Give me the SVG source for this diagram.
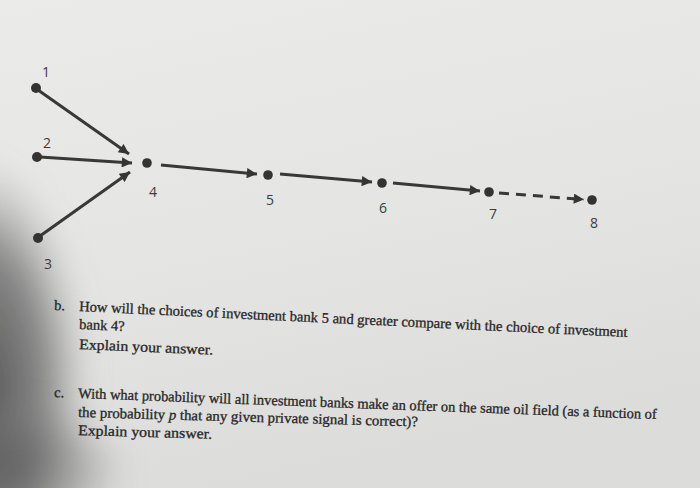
<svg xmlns="http://www.w3.org/2000/svg" width="700" height="488" viewBox="0 0 700 488">
  <defs>
    <linearGradient id="paper" x1="0" y1="0" x2="0.3" y2="1">
      <stop offset="0" stop-color="#ebebea"/>
      <stop offset="0.6" stop-color="#e4e4e3"/>
      <stop offset="1" stop-color="#dcdcdb"/>
    </linearGradient>
    <radialGradient id="shadow" cx="0.5" cy="0.5" r="0.5">
      <stop offset="0" stop-color="#484848" stop-opacity="0.95"/>
      <stop offset="0.6" stop-color="#686868" stop-opacity="0.75"/>
      <stop offset="1" stop-color="#9a9a9a" stop-opacity="0"/>
    </radialGradient>
    <filter id="blur" x="-50%" y="-50%" width="200%" height="200%">
      <feGaussianBlur stdDeviation="14"/>
    </filter>
    <marker id="arrow" viewBox="0 0 10 10" refX="10" refY="5" markerWidth="4" markerHeight="3.4" orient="auto" markerUnits="strokeWidth">
      <path d="M0,0 L10,5 L0,10 Z" fill="#353535"/>
    </marker>
    <style>
      .edge { stroke: #383838; stroke-width: 3; fill: none; marker-end: url(#arrow); }
      .dash { stroke-dasharray: 10 7; }
      .dot { fill: #333333; }
      .lbl { font-family: "Open Sans", "Liberation Sans", sans-serif; font-size: 14px; fill: #3c3c3c; text-anchor: middle; }
      .q { font-family: "Liberation Serif", "Times New Roman", serif; font-size: 14.5px; fill: #262626; stroke: #262626; stroke-width: 0.3; }
    </style>
  </defs>

  <rect x="0" y="0" width="700" height="488" fill="url(#paper)"/>
  <ellipse cx="-25" cy="390" rx="115" ry="235" fill="url(#shadow)" filter="url(#blur)"/>
  <ellipse cx="20" cy="470" rx="110" ry="70" fill="url(#shadow)" filter="url(#blur)" opacity="0.5"/>

  <g id="connectors">
    <line class="edge" x1="38" y1="90" x2="129" y2="154"/>
    <line class="edge" x1="40" y1="157" x2="132" y2="163"/>
    <line class="edge" x1="40" y1="236" x2="130" y2="172"/>
    <line class="edge" x1="161" y1="165" x2="257" y2="174"/>
    <line class="edge" x1="280" y1="174" x2="372" y2="182"/>
    <line class="edge" x1="393" y1="183" x2="480" y2="191"/>
    <line class="edge dash" x1="499" y1="193" x2="584" y2="199.5"/>
  </g>

  <g id="node1"><circle class="dot" cx="36" cy="88" r="5"/><text class="lbl" x="46" y="77">1</text></g>
  <g id="node2"><circle class="dot" cx="37" cy="157" r="5"/><text class="lbl" x="47" y="148">2</text></g>
  <g id="node3"><circle class="dot" cx="38" cy="238" r="5"/><text class="lbl" x="48" y="269">3</text></g>
  <g id="node4"><circle class="dot" cx="147" cy="163" r="4.8"/><text class="lbl" x="153" y="197">4</text></g>
  <g id="node5"><circle class="dot" cx="268" cy="175" r="4.8"/><text class="lbl" x="270" y="205">5</text></g>
  <g id="node6"><circle class="dot" cx="382" cy="183" r="4.8"/><text class="lbl" x="383" y="213">6</text></g>
  <g id="node7"><circle class="dot" cx="489" cy="192" r="4.8"/><text class="lbl" x="493" y="219">7</text></g>
  <g id="node8"><circle class="dot" cx="592" cy="200" r="4.8"/><text class="lbl" x="594" y="228">8</text></g>

  <g id="question-b">
    <text class="q" x="54" y="310" transform="rotate(2.5 54 310)">b.</text>
    <text class="q" x="79" y="311" transform="rotate(2.71 79 311)" textLength="549" lengthAdjust="spacingAndGlyphs">How will the choices of investment bank 5 and greater compare with the choice of investment</text>
    <text class="q" x="79" y="329" transform="rotate(2.4 79 329)">bank 4?</text>
    <text class="q" x="79" y="349" transform="rotate(2.4 79 349)" textLength="134" lengthAdjust="spacingAndGlyphs">Explain your answer.</text>
  </g>

  <g id="question-c">
    <text class="q" x="54" y="397" transform="rotate(2 54 397)">c.</text>
    <text class="q" x="78" y="398" transform="rotate(2.08 78 398)" textLength="579" lengthAdjust="spacingAndGlyphs">With what probability will all investment banks make an offer on the same oil field (as a function of</text>
    <text class="q" x="78" y="417" transform="rotate(1.6 78 417)" textLength="340" lengthAdjust="spacingAndGlyphs">the probability <tspan font-style="italic">p</tspan> that any given private signal is correct)?</text>
    <text class="q" x="78" y="435" transform="rotate(1.6 78 435)" textLength="134" lengthAdjust="spacingAndGlyphs">Explain your answer.</text>
  </g>
</svg>
